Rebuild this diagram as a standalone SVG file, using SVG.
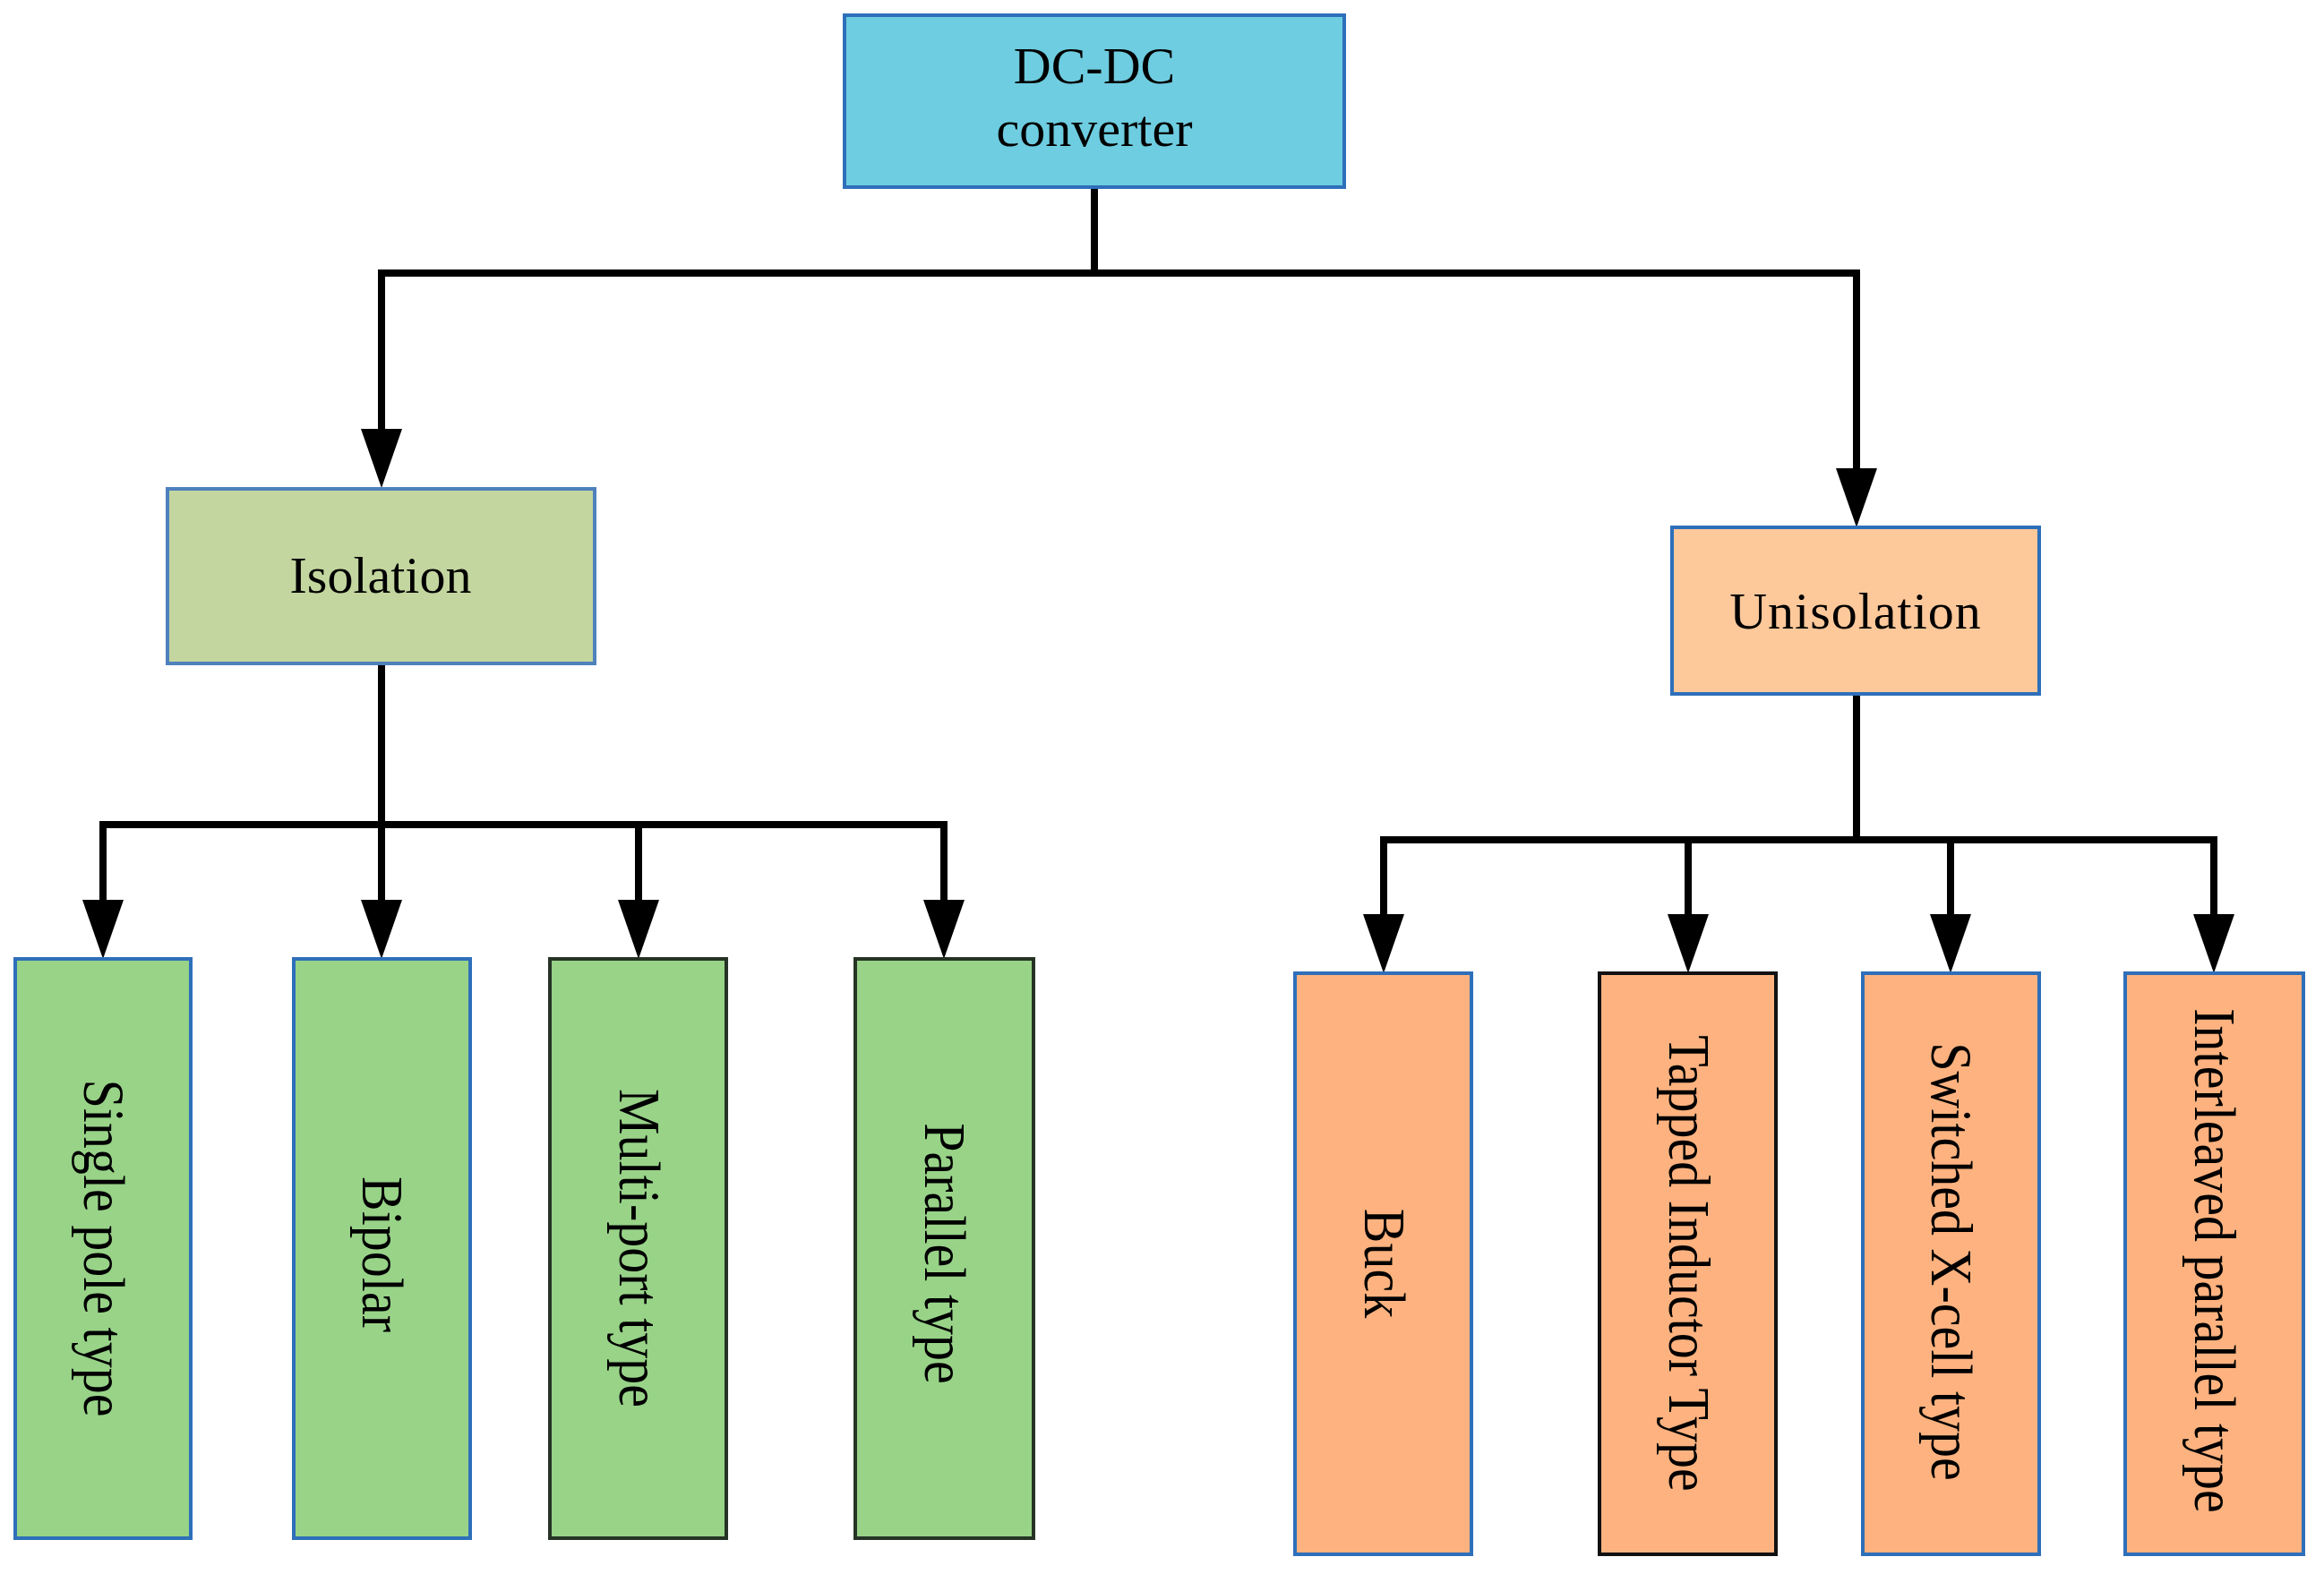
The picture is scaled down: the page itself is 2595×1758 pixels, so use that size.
<svg xmlns="http://www.w3.org/2000/svg" width="2595" height="1758" viewBox="0 0 2595 1758">
<style>
.t{font-family:"Liberation Serif","Times New Roman",serif;font-size:58px;fill:#000;text-anchor:middle}
.c{fill:none;stroke:#000;stroke-width:8}
.bl{stroke:#2e6fba;stroke-width:4}
.dk{stroke:#263326;stroke-width:4}
.blk{stroke:#111;stroke-width:4}
.g{fill:#98d388}
.o{fill:#fdb27f}
</style>
<defs>
<marker id="ah" viewBox="0 0 66 46" refX="0" refY="23" markerWidth="66" markerHeight="46" markerUnits="userSpaceOnUse" orient="auto">
<path d="M0,0 L66,23 L0,46 z" fill="#000"/>
</marker>
</defs>
<rect width="2595" height="1758" fill="#fff"/>
<g id="connectors">
<path class="c" d="M1222,209 V305"/>
<path class="c" d="M426,305 H2073"/>
<path class="c" d="M426,301 V479" marker-end="url(#ah)"/>
<path class="c" d="M2073,301 V523" marker-end="url(#ah)"/>
<path class="c" d="M426,741 V921"/>
<path class="c" d="M115,921 H1054"/>
<path class="c" d="M115,917 V1005" marker-end="url(#ah)"/>
<path class="c" d="M426,921 V1005" marker-end="url(#ah)"/>
<path class="c" d="M713,917 V1005" marker-end="url(#ah)"/>
<path class="c" d="M1054,917 V1005" marker-end="url(#ah)"/>
<path class="c" d="M2073,775 V938"/>
<path class="c" d="M1545,938 H2472"/>
<path class="c" d="M1545,934 V1021" marker-end="url(#ah)"/>
<path class="c" d="M1885,934 V1021" marker-end="url(#ah)"/>
<path class="c" d="M2178,934 V1021" marker-end="url(#ah)"/>
<path class="c" d="M2472,934 V1021" marker-end="url(#ah)"/>
</g>
<g id="n-dcdc">
<rect x="943" y="17" width="558" height="192" fill="#6ecde0" class="bl"/>
<text class="t" x="1222" y="93">DC-DC</text>
<text class="t" x="1222" y="163">converter</text>
</g>
<g id="n-isolation">
<rect x="187" y="546" width="477" height="195" fill="#c3d69f" stroke="#4f81bd" stroke-width="4"/>
<text class="t" x="425" y="662">Isolation</text>
</g>
<g id="n-unisolation">
<rect x="1867" y="589" width="410" height="186" fill="#fdc89a" class="bl"/>
<text class="t" x="2072" y="702" letter-spacing="1">Unisolation</text>
</g>
<g id="n-single">
<rect x="17" y="1071" width="196" height="647" class="g bl"/>
<text class="t" transform="translate(115,1394) rotate(90) scale(1,1.12)" y="19">Single pole type</text>
</g>
<g id="n-bipolar">
<rect x="328" y="1071" width="197" height="647" class="g bl"/>
<text class="t" transform="translate(426,1401) rotate(90) scale(1,1.12)" y="19">Bipolar</text>
</g>
<g id="n-multiport">
<rect x="614" y="1071" width="197" height="647" class="g dk"/>
<text class="t" transform="translate(713,1394) rotate(90) scale(1,1.12)" y="19">Multi-port type</text>
</g>
<g id="n-parallel">
<rect x="955" y="1071" width="199" height="647" class="g dk"/>
<text class="t" transform="translate(1054,1400) rotate(90) scale(1,1.12)" y="19">Parallel type</text>
</g>
<g id="n-buck">
<rect x="1446" y="1087" width="197" height="649" class="o bl"/>
<text class="t" transform="translate(1545,1411) rotate(90) scale(1,1.12)" y="19">Buck</text>
</g>
<g id="n-tapped">
<rect x="1786" y="1087" width="197" height="649" class="o blk"/>
<text class="t" transform="translate(1885,1411) rotate(90) scale(1,1.12)" y="19">Tapped Inductor Type</text>
</g>
<g id="n-xcell">
<rect x="2080" y="1087" width="197" height="649" class="o bl"/>
<text class="t" transform="translate(2178,1409) rotate(90) scale(1,1.12)" y="19">Switched X-cell type</text>
</g>
<g id="n-interleaved">
<rect x="2373" y="1087" width="199" height="649" class="o bl"/>
<text class="t" transform="translate(2472,1408) rotate(90) scale(1,1.12)" y="19">Interleaved parallel type</text>
</g>
</svg>
